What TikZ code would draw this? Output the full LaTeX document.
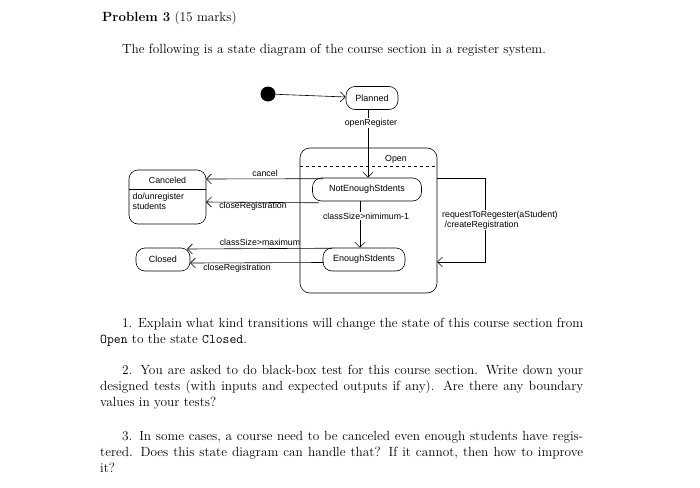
\documentclass[tikz,border=0pt]{standalone}
\usepackage{fontspec}
\setmainfont{Latin Modern Roman}
\newfontfamily\dsf{Liberation Sans}
\usetikzlibrary{arrows.meta}
\begin{document}
\begin{tikzpicture}[x=1pt,y=-1pt,
  st/.style={draw,rounded corners=9pt,line width=0.6pt,inner sep=1pt,font=\dsf\fontsize{9}{10}\selectfont},
  lab/.style={font=\dsf\fontsize{8.8}{10.5}\selectfont,inner sep=0.5pt},
  tr/.style={line width=0.6pt,-{Straight Barb[length=5pt,width=10pt]}},
  txt/.style={anchor=base west,inner sep=0,font=\fontsize{13.3}{16}\selectfont}]
\useasboundingbox (0,0) rectangle (700,487);
% header
\node[txt] (h) at (102,22) {\textbf{Problem 3} (15 marks)};
\node[txt] (i) at (122,53) {The following is a state diagram of the course section in a register system.};
% diagram
\node[circle,fill,inner sep=0,minimum size=15pt] (init) at (268,94) {};
\node[st,minimum width=52pt,minimum height=23pt] (planned) at (372,98) {Planned};
\draw[rounded corners=10pt,line width=0.6pt] (300,148) rectangle (437,293);
\coordinate (openR) at (437,178);
\coordinate (openR2) at (437,262);
\draw[dashed,line width=0.6pt] (300,166) -- (437,166);
\node[lab] (open) at (396,159) {Open};
\node[st,minimum width=109pt,minimum height=23pt] (ne) at (367,189.5) {NotEnoughStdents};
\node[st,minimum width=82pt,minimum height=23pt] (en) at (364,259.5) {EnoughStdents};
\draw[rounded corners=9pt,line width=0.6pt] (129,170) rectangle (206,224);
\draw[line width=0.6pt] (129,189) -- (206,189);
\node[lab] (canc) at (167.5,180) {Canceled};
\node[lab,align=left,anchor=north west] (do) at (132,192) {do/unregister\\students};
\coordinate (cR1) at (206,179);
\coordinate (cR2) at (206,202);
\node[st,minimum width=54pt,minimum height=23pt] (closed) at (163,259.5) {Closed};
\coordinate (clR1) at (187,249);
\coordinate (clR2) at (190,263);
% transitions
\draw[tr] (init) -- (planned);
\draw[tr] (planned.south -| 368,0) -- (ne.north -| 368,0);
\node[lab,fill=white] (l1) at (371,123) {openRegister};
\draw[tr] (ne.north west -| 323,0) ++(0,1) -- (cR1);
\node[lab] (l2) at (265,173) {cancel};
\draw[tr] (ne.south west -| 319,0) ++(0,1.5) -- (cR2);
\node[lab] (l3) at (253,206) {closeRegistration};
\draw[tr] (ne.south -| 360,0) -- (en.north -| 360,0);
\node[lab,fill=white] (l4) at (366,216) {classSize>nimimum-1};
\draw[tr] (en.north west -| 332,0) ++(0,0.5) -- (clR1);
\node[lab] (l5) at (260,242) {classSize>maximum};
\draw[tr] (en.west) ++(1,3) -- (clR2);
\node[lab] (l6) at (237,268) {closeRegistration};
\draw[tr] (openR) -- (485,178) -- (485,262) -- (openR2);
\node[lab,align=left,anchor=west,fill=white,inner sep=1pt] (l7) at (441,220) {requestToRegester(aStudent)\\\ /createRegistration};
% questions
\node[txt] (q1a) at (100,327) {\makebox[483pt][s]{\hspace{22pt}1. Explain what kind transitions will change the state of this course section from}};
\node[txt] (q1b) at (100,343) {\texttt{Open} to the state \texttt{Closed}.};
\node[txt] (q2a) at (100,374) {\makebox[483pt][s]{\hspace{22pt}2. You are asked to do black-box test for this course section. Write down your}};
\node[txt] (q2b) at (100,390) {\makebox[483pt][s]{designed tests (with inputs and expected outputs if any). Are there any boundary}};
\node[txt] (q2c) at (100,406) {values in your tests?};
\node[txt] (q3a) at (100,440) {\makebox[483pt][s]{\hspace{22pt}3. In some cases, a course need to be canceled even enough students have regis-}};
\node[txt] (q3b) at (100,456) {\makebox[483pt][s]{tered. Does this state diagram can handle that? If it cannot, then how to improve}};
\node[txt] (q3c) at (100,472) {it?};
\end{tikzpicture}
\end{document}
